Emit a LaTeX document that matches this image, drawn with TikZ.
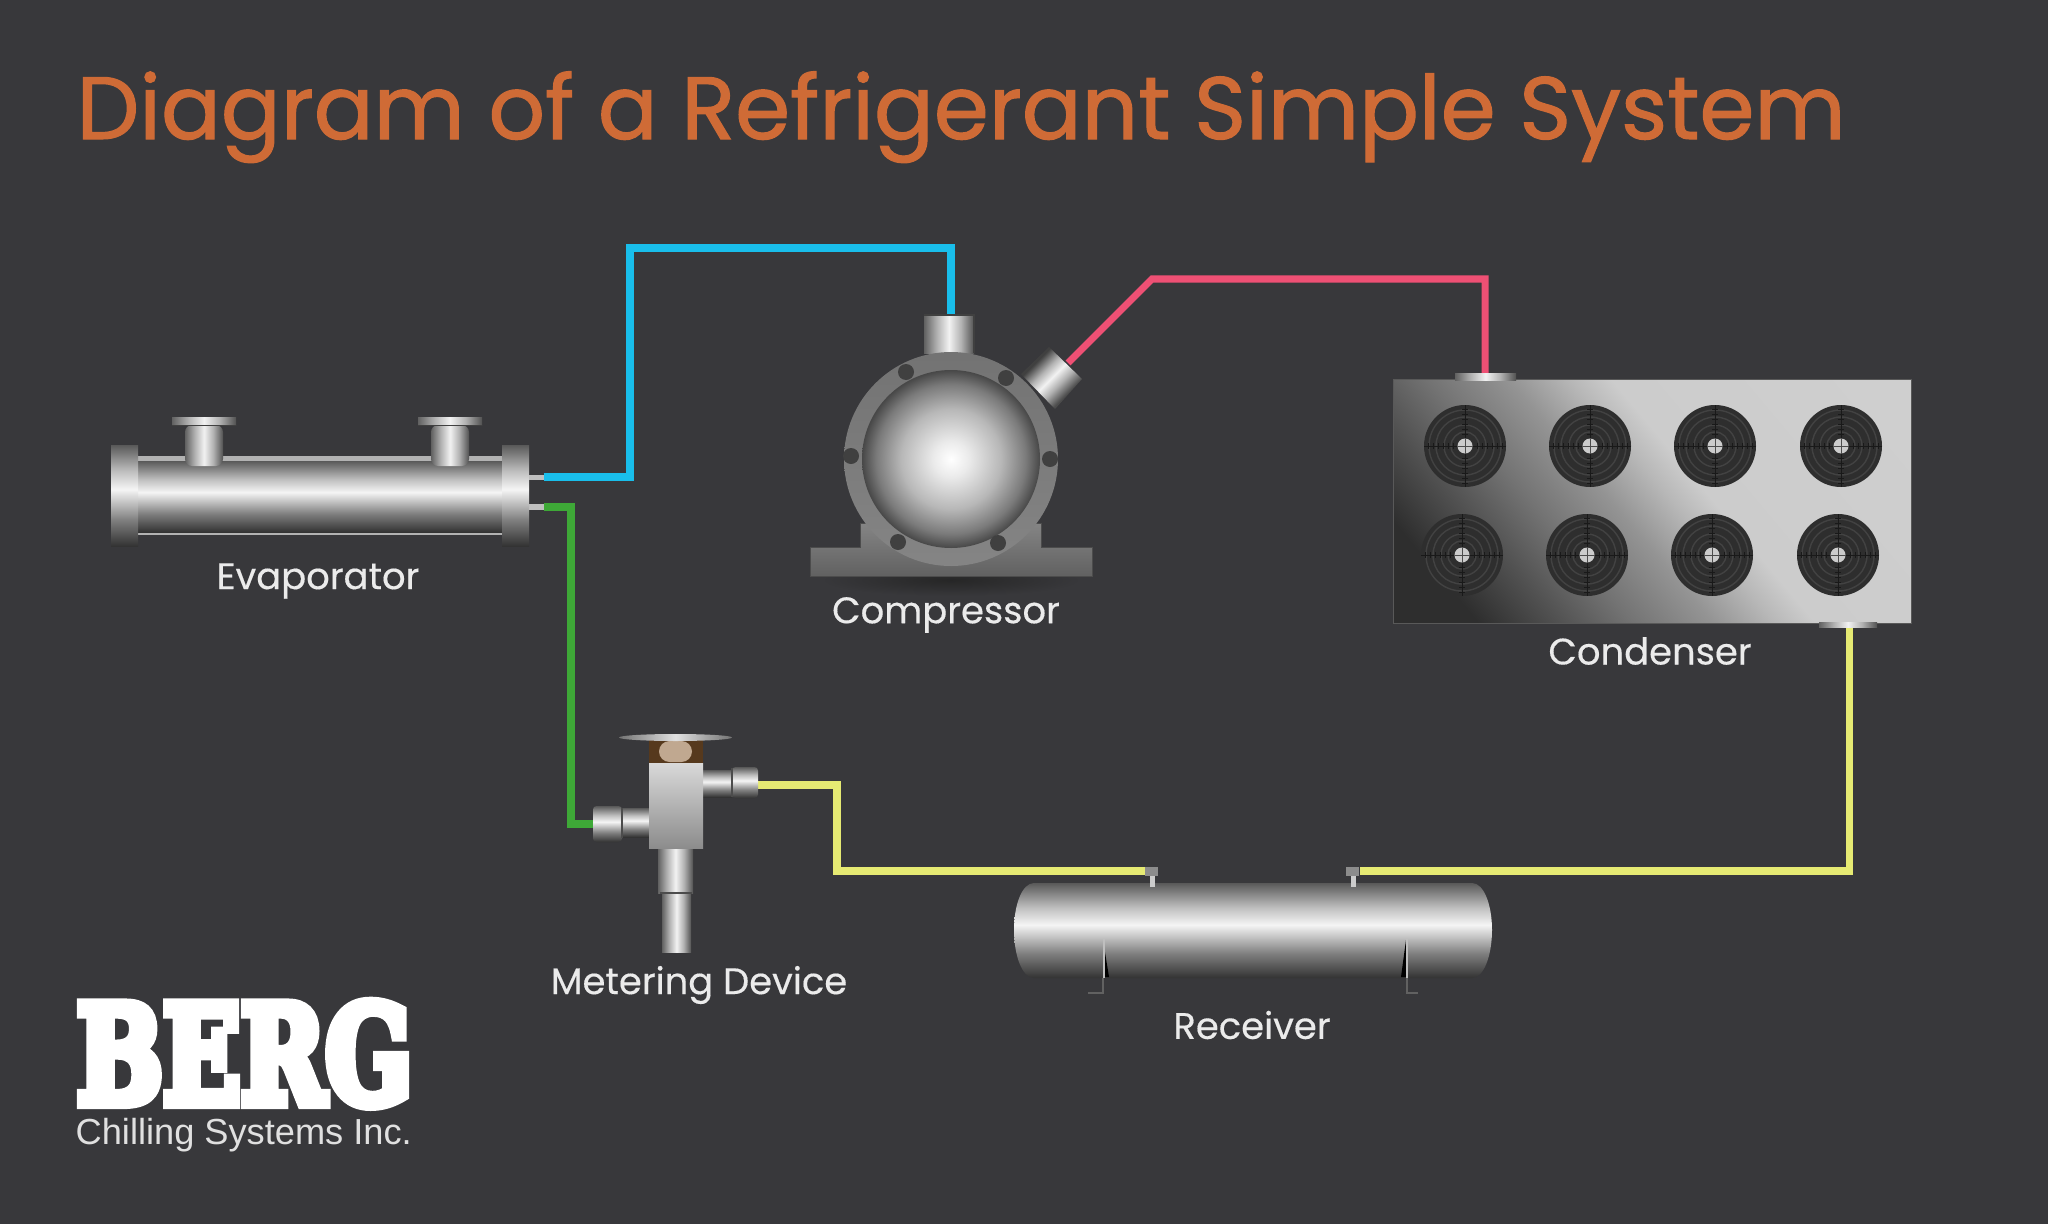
\documentclass[tikz,border=0pt]{standalone}
\usepackage{fontspec}
\setmainfont{Poppins}
\newfontfamily\titlefont[FakeBold=1.2]{Poppins}
\newfontfamily\labelfont[FakeBold=0.35]{Poppins}
\newfontfamily\logofont[FakeBold=9]{DejaVu Serif}
\newfontfamily\subfont{Liberation Sans}
\usepackage{tikz}
\definecolor{bgdark}{RGB}{56,56,59}
\definecolor{titleorange}{RGB}{207,107,54}
\definecolor{pipeblue}{RGB}{25,190,235}
\definecolor{pipered}{RGB}{238,80,116}
\definecolor{pipegreen}{RGB}{62,168,55}
\definecolor{pipeyellow}{RGB}{230,234,115}
% y runs downward here, so the stops are listed bottom of page to top
\pgfdeclareverticalshading{metalbar}{100bp}{
  color(0bp)=(black!80); color(25bp)=(black!80); color(38bp)=(black!50);
  color(53bp)=(white!96!black); color(62bp)=(black!25); color(75bp)=(black!65); color(100bp)=(black!65)}
\pgfdeclarehorizontalshading{metalcol}{100bp}{
  color(0bp)=(black!62); color(25bp)=(black!62); color(38bp)=(black!30);
  color(50bp)=(white!95!black); color(62bp)=(black!30); color(75bp)=(black!68); color(100bp)=(black!68)}
\pgfdeclareverticalshading{metalport}{100bp}{
  color(0bp)=(black!70); color(32bp)=(black!70); color(42bp)=(black!30);
  color(50bp)=(white!95!black); color(58bp)=(black!30); color(68bp)=(black!75); color(100bp)=(black!75)}
\pgfdeclareradialshading{metalball}{\pgfpointorigin}{
  color(0bp)=(white); color(5bp)=(white!92!black); color(14bp)=(black!28);
  color(21bp)=(black!52); color(25bp)=(black!72); color(50bp)=(black!72)}
\pgfdeclareverticalshading{plateshade}{100bp}{
  color(0bp)=(black!82); color(23bp)=(black!82); color(31bp)=(black!68);
  color(38bp)=(black!55); color(46bp)=(black!42); color(52bp)=(black!28);
  color(56bp)=(black!20); color(100bp)=(black!18)}
\tikzset{
  pipe/.style={line width=2pt,line join=miter},
  partlabel/.style={text=white!92!black,font=\labelfont\fontsize{10.5}{12}\selectfont},
  fanblade/.style={black!90,line width=0.25pt},
  bolt/.style={fill=black!75},
}
\begin{document}
\begin{tikzpicture}[x=0.01cm,y=-0.01cm]
  \fill[bgdark] (0,0) rectangle (2048,1224);
  \useasboundingbox (0,0) rectangle (2048,1224);
  \node[anchor=base west,inner sep=0pt,text=titleorange] (title) at (76,139)
    {\resizebox{503pt}{!}{\titlefont\fontsize{26}{30}\selectfont Diagram of a Refrigerant Simple System}};

  % pipe ends
  \coordinate (evapout) at (544,477);
  \coordinate (evapret) at (544,507);
  \coordinate (bluecorner) at (630,248);
  \coordinate (compin) at (951,316);
  \coordinate (compout) at (1068,363);
  \coordinate (redcorner) at (1152,279);
  \coordinate (condin) at (1485,375);
  \coordinate (condout) at (1849,625);
  \coordinate (recvout) at (1360,871);
  \coordinate (recvin) at (1145,871);
  \coordinate (greencorner) at (571,824);
  \coordinate (meterin) at (595,824);
  \coordinate (meterout) at (756,785);
  \coordinate (yellowcorner) at (837,871);

  \draw[pipe,pipeblue] (evapout) -| (bluecorner) -| (compin);
  \draw[pipe,pipered] (compout) -- (redcorner) -| (condin);
  \draw[pipe,pipeyellow] (condout) |- (recvout);
  \draw[pipe,pipeyellow] (meterout) -| (yellowcorner) -- (recvin);
  \draw[pipe,pipegreen] (evapret) -| (greencorner) -- (meterin);

  % evaporator
  \fill[white!70!black] (138,456) rectangle (502,535);
  \shade[shading=metalbar] (138,461) rectangle (502,532);
  \shade[shading=metalbar] (111,445) rectangle (138,546);
  \shade[shading=metalbar] (502,445) rectangle (529,546);
  \fill[white!75!black] (529,475) rectangle (544,480);
  \fill[white!75!black] (529,504) rectangle (544,510);
  \foreach \sx in {204,450} {
    \shade[shading=metalcol,rounded corners=2pt] (\sx-19,425) rectangle (\sx+19,466);
    \shade[shading=metalcol] (\sx-32,417) rectangle (\sx+32,425);
    \draw[black!75,line width=0.25pt] (\sx-32,425) -- (\sx+32,425);
  }

  % compressor
  \shade[inner color=black!85,outer color=bgdark] (951,580) ellipse (130 and 16);
  \shade[bottom color=black!62,top color=black!48,draw=black!70,line width=0.2pt]
    (810,547) -- (860,547) -- (860,523) -- (1041,523) -- (1041,547) -- (1092,547)
    -- (1092,576) -- (810,576) -- cycle;
  \shade[shading=metalcol] (924,315) rectangle (974,353);
  \draw[black!75,line width=0.5pt] (924,315) -- (974,315) -- (974,353);
  \shade[shading=metalport,shading angle=45]
    (1049,347) -- (1082,379) -- (1055,409) -- (1021,374) -- cycle;
  \shade[top color=black!55,bottom color=black!48] (951,459) circle [radius=107];
  \shade[shading=metalball] (951,459) circle [radius=89];
  \foreach \bx/\by in {906/372,1006/378,851/456,1050/459,898/542,998/543}
    \fill[bolt] (\bx,\by) circle [radius=8];

  % condenser
  \shade[shading=plateshade,shading angle=-50,draw=black!65,line width=0.2pt]
    (1393,379) rectangle (1911,623);
  \shade[shading=metalcol] (1455,373) rectangle (1516,380);
  \shade[shading=metalcol] (1819,622) rectangle (1877,627);
  \foreach \fx/\fy in {1465/446,1590/446,1715/446,1841/446,1462/555,1587/555,1712/555,1838/555} {
    \begin{scope}[shift={(\fx,\fy)}]
      \fill[black!82] (0,0) circle [radius=41];
      \foreach \ringr in {14,21,29,36}
        \draw[black!74,line width=0.4pt] (0,0) circle [radius=\ringr];
      \draw[fanblade] (-41,0) -- (41,0) (0,-41) -- (0,41);
      \foreach \tk in {12,17,...,37}
        \draw[fanblade,line width=0.15pt] (\tk,-3) -- (\tk,3) (-\tk,-3) -- (-\tk,3)
          (-3,\tk) -- (3,\tk) (-3,-\tk) -- (3,-\tk);
      \fill[black!20] (0,0) circle [radius=7.5];
      \draw[black!70,line width=0.25pt] (-7.5,0) -- (7.5,0) (0,-7.5) -- (0,7.5);
    \end{scope}
  }

  % metering device
  \shade[shading=metalcol] (658,848) rectangle (693,893);
  \shade[shading=metalcol] (662,893) rectangle (691,952);
  \draw[black!70,line width=0.4pt] (660,893) -- (692,893);
  \shade[shading=metalbar] (703,770) rectangle (732,797);
  \shade[shading=metalbar,rounded corners=1pt] (732,767) rectangle (758,798);
  \draw[black!70,line width=0.4pt] (732,768) -- (732,797);
  \shade[shading=metalbar] (622,808) rectangle (649,837);
  \shade[shading=metalbar,rounded corners=1pt] (593,806) rectangle (622,842);
  \draw[black!70,line width=0.4pt] (622,808) -- (622,838);
  \fill[black!55!brown] (649,739) rectangle (703,763);
  \fill[brown!45!white!85!black,rounded corners=3pt] (659,741) rectangle (692,762);
  \shade[top color=black!15,bottom color=black!45] (649,763) rectangle (703,848);
  \shade[left color=black!55,right color=black!55,middle color=black!12]
    (619,737.5) arc [start angle=180,end angle=0,x radius=56.5,y radius=3.5]
    arc [start angle=0,end angle=-180,x radius=56.5,y radius=3.5];

  % receiver
  \shade[shading=metalbar] (1034,883) -- (1472,883)
    .. controls (1484,883) and (1492,905) .. (1492,930)
    .. controls (1492,955) and (1484,978) .. (1472,978) -- (1034,978)
    .. controls (1022,978) and (1014,955) .. (1014,930)
    .. controls (1014,905) and (1022,883) .. (1034,883) -- cycle;
  \fill[black] (1103,940) -- (1109,977) -- (1103,977) -- cycle;
  \fill[black] (1406,940) -- (1406,977) -- (1401,977) -- cycle;
  \draw[black!62,line width=0.3pt] (1088,993) -- (1103,993) -- (1103,978);
  \draw[black!62,line width=0.3pt] (1418,993) -- (1407,993) -- (1407,978);
  \draw[white!75!black,line width=0.3pt] (1104,938) -- (1104,978);
  \draw[white!75!black,line width=0.3pt] (1407,938) -- (1407,978);
  \foreach \vx in {1152,1353} {
    \fill[black!45] (\vx-7,867) rectangle (\vx+6,876);
    \fill[black!20] (\vx-2.5,876) rectangle (\vx+2.5,887);
  }

  % labels
  \node[partlabel] (evaplabel) at (318,581) {Evaporator};
  \node[partlabel] (complabel) at (946,615) {Compressor};
  \node[partlabel] (condlabel) at (1650,651) {Condenser};
  \node[partlabel] (meterlabel) at (699,985) {Metering Device};
  \node[partlabel] (recvlabel) at (1252,1025) {Receiver};

  % logo
  \node[anchor=base west,inner sep=0pt,text=white] (berg) at (76,1103)
    {\resizebox{95.5pt}{28.5pt}{\logofont\bfseries BERG}};
  \node[anchor=base west,inner sep=0pt,text=white!88!black] (chilling) at (75,1144)
    {\subfont\fontsize{10.3}{12}\selectfont Chilling Systems Inc.};
\end{tikzpicture}
\end{document}
